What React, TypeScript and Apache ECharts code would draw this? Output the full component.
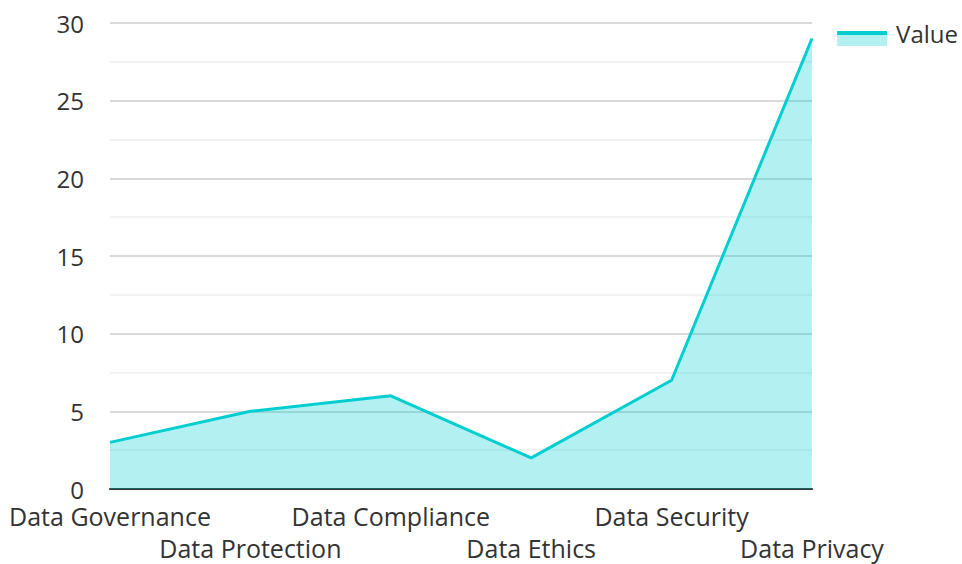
import React, { useEffect, useRef } from "react";
import * as echarts from "echarts";

const categories = ["Data Governance", "Data Protection", "Data Compliance", "Data Ethics", "Data Security", "Data Privacy"];
const values = [3, 5, 6, 2, 7, 29];
const seriesName = "Value";

const LINE = "#00CED1";
const AREA = "rgba(0,206,209,0.3)";

export default function App() {
  const ref = useRef<HTMLDivElement>(null);
  useEffect(() => {
    const chart = echarts.init(ref.current!, undefined, { renderer: "svg" });
    chart.setOption({
      animation: false,
      textStyle: { fontFamily: "Open Sans" },
      legend: {
        data: [seriesName],
        right: 4,
        top: 20,
        padding: 0,
        icon: "path://M0,0L50,0L50,0L0,0Z M0,11L50,11L50,26L0,26Z",
        itemWidth: 50,
        itemHeight: 26,
        itemGap: 8,
        itemStyle: {
          borderWidth: 0,
          color: new echarts.graphic.LinearGradient(0, 0, 0, 1, [
            { offset: 0, color: "rgba(0,0,0,0)" },
            { offset: 0.42, color: "rgba(0,0,0,0)" },
            { offset: 0.42, color: LINE },
            { offset: 0.575, color: LINE },
            { offset: 0.575, color: AREA },
            { offset: 1, color: AREA },
          ]),
        },
        textStyle: { fontSize: 24, color: "#333", fontFamily: "Open Sans", padding: [0, 0, 0, 4] },
      },
      grid: { left: 110, right: 150, top: 23, height: 470, containLabel: false },
      xAxis: {
        type: "category",
        data: categories,
        boundaryGap: false,
        axisTick: { show: false },
        axisLine: { lineStyle: { color: "#333", width: 2 } },
        axisLabel: {
          interval: 0,
          fontSize: 25,
          color: "#333",
          margin: 11,
          lineHeight: 32,
          formatter: (v: string, i: number) => (i % 2 === 1 ? "\n" + v : v),
        },
      },
      yAxis: {
        type: "value",
        min: 0,
        max: 30,
        interval: 5,
        axisLabel: { fontSize: 24, color: "#333", margin: 26 },
        splitLine: { lineStyle: { color: "#ccc", width: 1.5 } },
        minorTick: { show: false, splitNumber: 2 },
        minorSplitLine: { show: true, lineStyle: { color: "#eee", width: 1.5 } },
      },
      series: [
        {
          name: seriesName,
          type: "line",
          data: values,
          showSymbol: false,
          symbol: "none",
          lineStyle: { color: LINE, width: 3 },
          itemStyle: { color: LINE },
          areaStyle: { color: LINE, opacity: 0.3 },
        },
      ],
    });
    return () => chart.dispose();
  }, []);
  return <div ref={ref} style={{ width: 962, height: 564, position: "absolute", left: 0, top: 0 }} />;
}
